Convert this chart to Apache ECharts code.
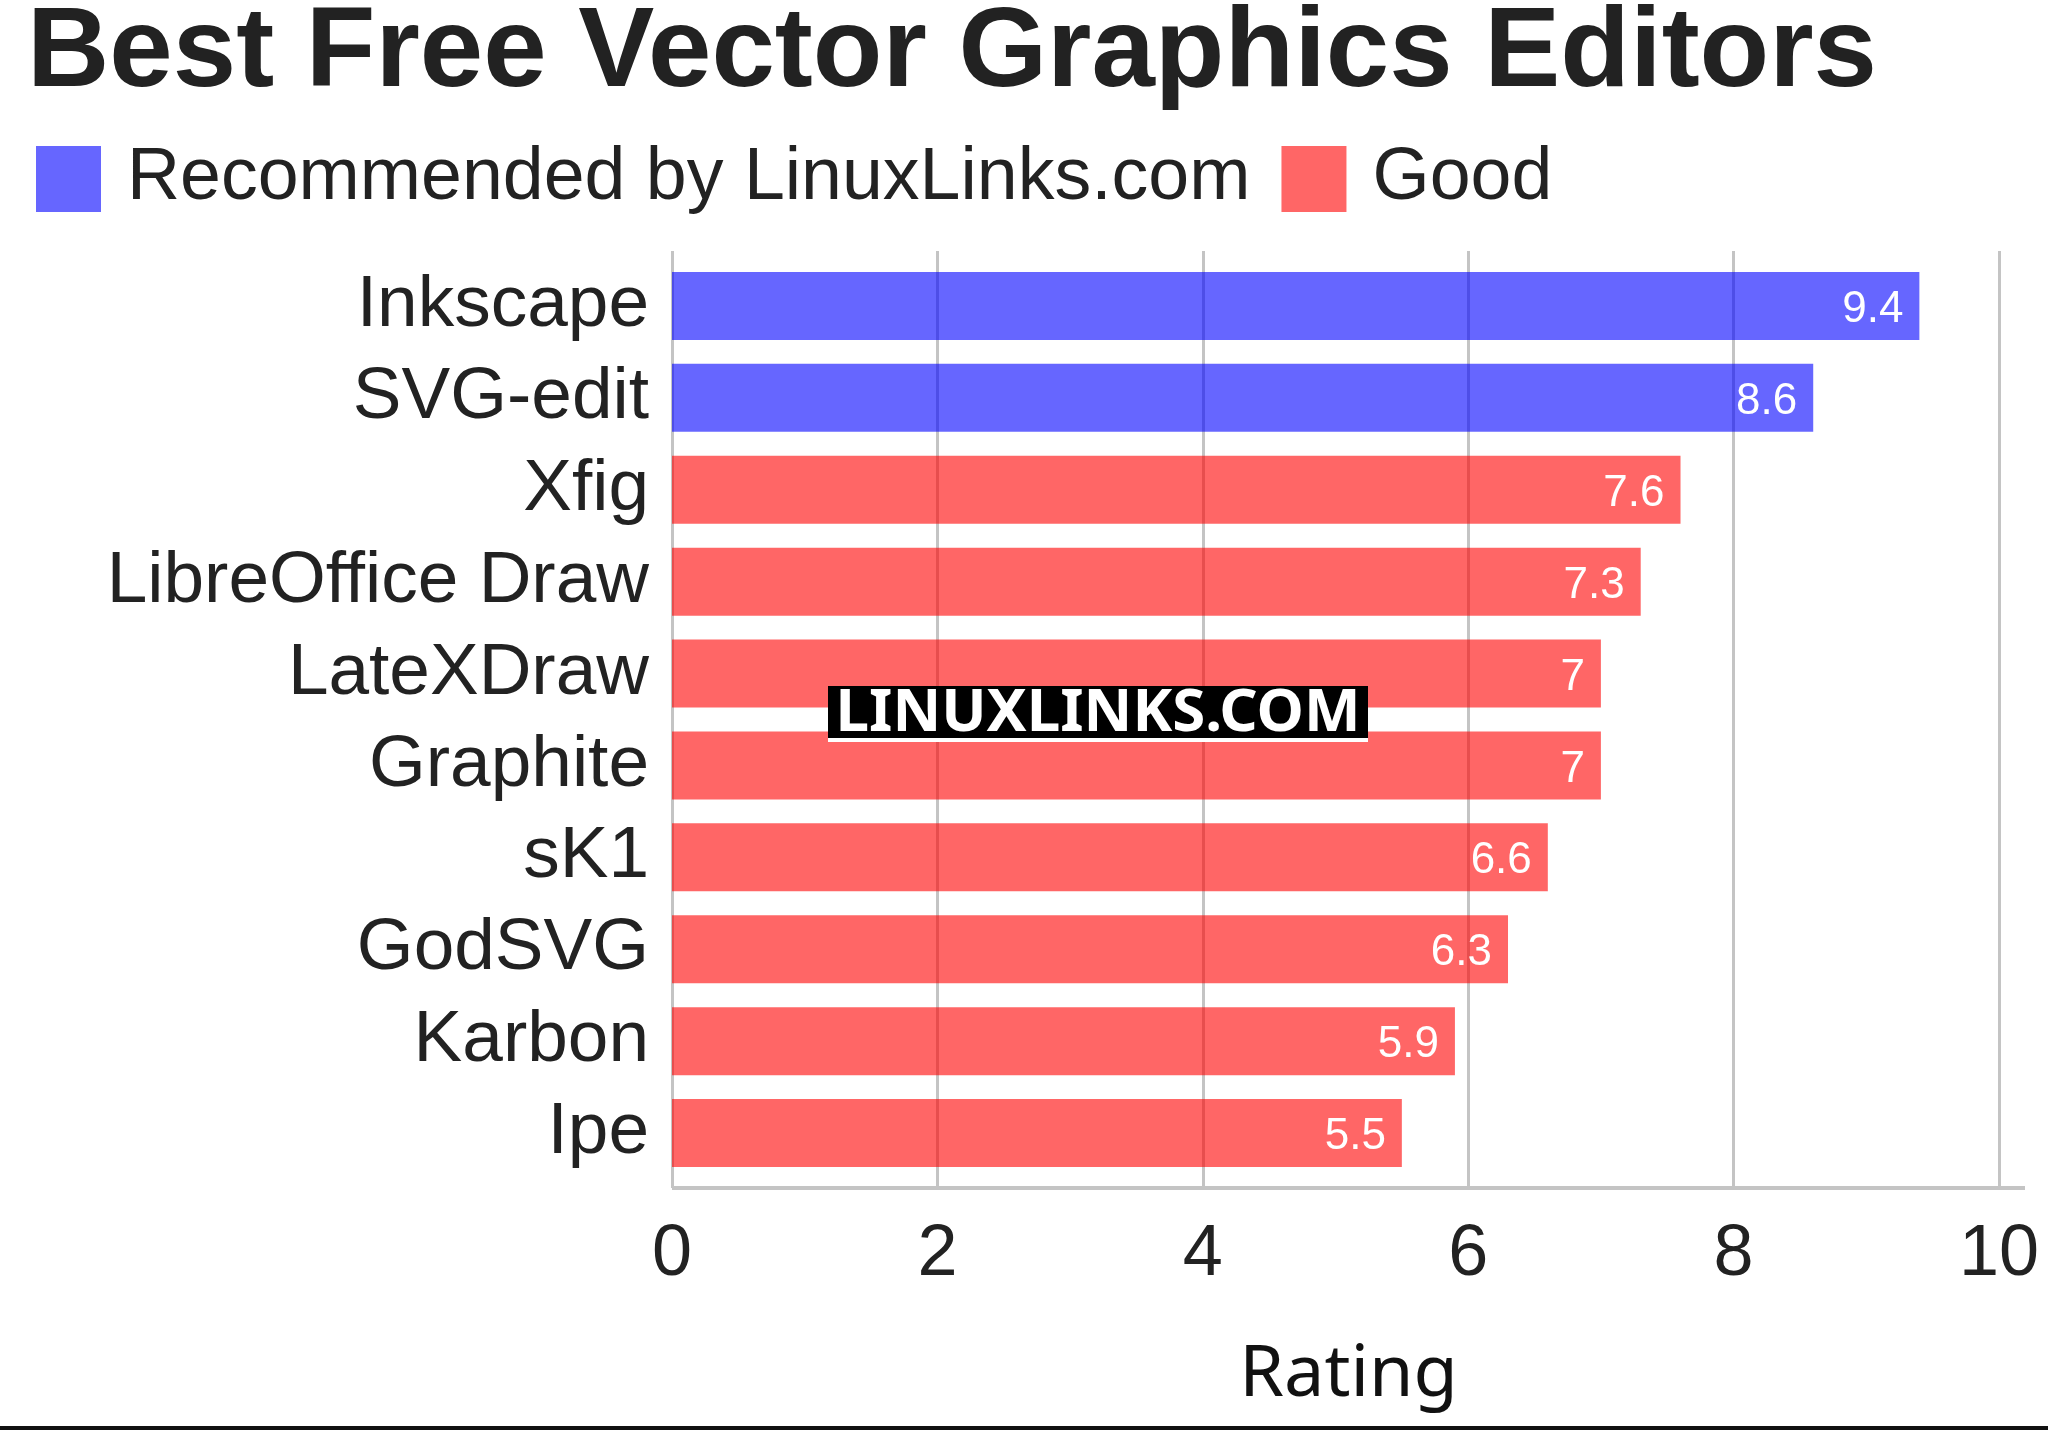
<!DOCTYPE html>
<html>
<head>
<meta charset="utf-8">
<script src="https://cdn.jsdelivr.net/npm/echarts@6/dist/echarts.min.js"></script>
<style>
html,body{margin:0;padding:0;background:#fff;}
#chart{width:2048px;height:1430px;}
</style>
</head>
<body>
<div id="chart"></div>
<script>
const titleText = "Best Free Vector Graphics Editors";
const categories = ["Inkscape", "SVG-edit", "Xfig", "LibreOffice Draw", "LateXDraw", "Graphite", "sK1", "GodSVG", "Karbon", "Ipe"];
const recommendedValues = [9.4, 8.6, null, null, null, null, null, null, null, null];
const goodValues = [null, null, 7.6, 7.3, 7, 7, 6.6, 6.3, 5.9, 5.5];
const seriesNames = ["Recommended by LinuxLinks.com", "Good"];
const xTicks = [0, 2, 4, 6, 8, 10];
const axisName = "Rating";
const watermark = "LINUXLINKS.COM";

const chart = echarts.init(document.getElementById('chart'), null, {renderer: 'canvas'});
const SANS = '"Liberation Sans", Arial, sans-serif';
const labelStyle = {
  show: true, position: 'insideRight', distance: 16, offset: [0, 4],
  color: '#fff', fontSize: 44, fontFamily: SANS, formatter: '{c}'
};
chart.setOption({
  backgroundColor: '#fff',
  animation: false,
  title: {
    text: titleText, left: 22, top: -7,
    textStyle: {fontSize: 114, fontWeight: 'bold', color: '#222', fontFamily: SANS}
  },
  legend: {
    left: 31, top: 137, itemWidth: 65, itemHeight: 66, itemGap: 31,
    icon: 'rect',
    textStyle: {fontSize: 73.5, color: '#222', fontFamily: SANS, padding: [8, 0, 0, 21]},
    data: seriesNames
  },
  grid: [
    {left: 672, right: 49, top: 251, bottom: 242},
    {left: 672, right: 49, top: 260, bottom: 251}
  ],
  xAxis: [
    {
      gridIndex: 0, type: 'value', min: xTicks[0], max: xTicks[xTicks.length - 1], interval: 2,
      axisLine: {show: false}, axisTick: {show: false},
      splitLine: {show: true, lineStyle: {color: '#c4c4c4', width: 3}},
      axisLabel: {fontSize: 72, color: '#222', fontFamily: SANS, margin: 31},
      name: axisName, nameLocation: 'middle', nameGap: 151,
      nameTextStyle: {fontSize: 72, color: '#111', fontFamily: '"Noto Sans", sans-serif', padding: [0, 0, 0, 26]}
    },
    {gridIndex: 1, type: 'value', min: 0, max: 10, show: false}
  ],
  yAxis: [
    {gridIndex: 0, type: 'value', show: false},
    {
      gridIndex: 1, type: 'category', data: categories, inverse: true,
      axisLine: {show: false}, axisTick: {show: false},
      axisLabel: {interval: 0, fontSize: 73, color: '#222', fontFamily: SANS, margin: 23, padding: [10, 0, 0, 0]}
    }
  ],
  series: [
    {
      name: seriesNames[0], type: 'bar', xAxisIndex: 1, yAxisIndex: 1,
      data: recommendedValues, barWidth: 68, barGap: '-100%',
      itemStyle: {color: 'rgba(0,0,255,0.6)'}, label: labelStyle
    },
    {
      name: seriesNames[1], type: 'bar', xAxisIndex: 1, yAxisIndex: 1,
      data: goodValues, barWidth: 68, barGap: '-100%',
      itemStyle: {color: 'rgba(255,0,0,0.6)'}, label: labelStyle
    }
  ],
  graphic: [
    {type: 'rect', shape: {x: 672, y: 1186, width: 1353, height: 4}, style: {fill: '#c4c4c4'}, z: 5},
    {type: 'rect', shape: {x: 0, y: 1426, width: 2048, height: 4}, style: {fill: '#111'}, z: 5},
    {type: 'rect', shape: {x: 828, y: 686, width: 540, height: 52}, style: {fill: '#000'}, z: 20},
    {type: 'rect', shape: {x: 828, y: 738, width: 540, height: 4}, style: {fill: '#fff'}, z: 20},
    {type: 'text', x: 1098, y: 714, z: 21,
     style: {text: watermark, fill: '#fff', fontSize: 60, fontWeight: 'bold',
             fontFamily: '"Noto Sans", "Open Sans", sans-serif', align: 'center', verticalAlign: 'middle'}}
  ]
});
</script>
</body>
</html>
